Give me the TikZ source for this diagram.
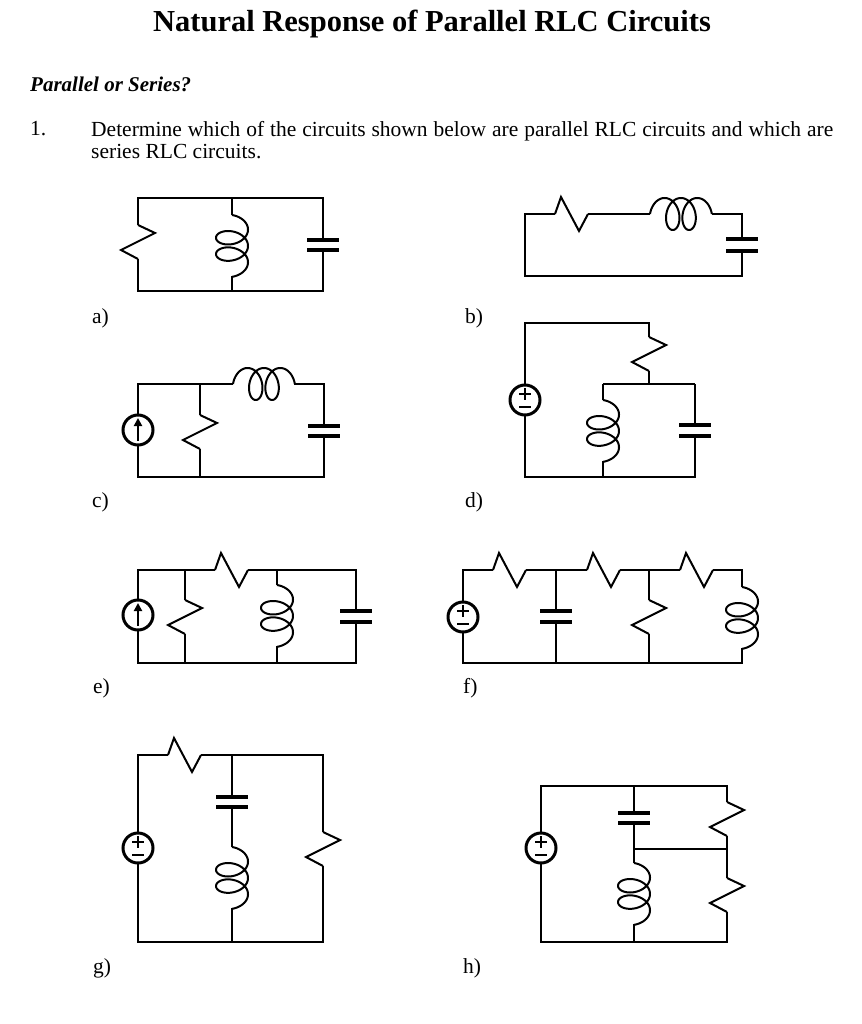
\documentclass[tikz,border=0pt]{standalone}
\usepackage{fontspec}
\setmainfont{Liberation Serif}
\usetikzlibrary{arrows.meta}
\newcommand\resV[2]{\draw[wire] (#1,#2) -- ++(17,8) -- ++(-34,17) -- ++(17,9);}
\newcommand\resH[2]{\draw[wire] (#1,#2) -- ++(6,-17) -- ++(18,34) -- ++(9,-17);}
\newcommand\capV[3]{\draw[plate] (#1-16,#2) -- (#1+16,#2) (#1-16,#3) -- (#1+16,#3);}
\newcommand\indV[2]{\draw[wire] plot[domain=0:15.708,samples=200,smooth,variable=\t] ({#1+16*sin(\t r)},{#2+2.6*\t+10.5*(1-cos(\t r))});}
\newcommand\indH[2]{\draw[wire] plot[domain=0:15.708,samples=200,smooth,variable=\t] ({#1+2.6*\t+10.5*(1-cos(\t r))},{#2-16*sin(\t r)});}
\newcommand\isrc[2]{\draw[src] (#1,#2) circle (15);
 \draw[line width=2.5pt,-{Triangle[length=8pt,width=8pt]}] (#1,#2+11) -- (#1,#2-12);}
\newcommand\vsrc[2]{\draw[src] (#1,#2) circle (15);
 \draw[line width=2.5pt] (#1-6,#2-6) -- (#1+6,#2-6) (#1,#2-12) -- (#1,#2) (#1-6,#2+7) -- (#1+6,#2+7);}
\tikzset{wire/.style={line width=2pt,line join=miter},plate/.style={line width=3.5pt},src/.style={line width=3pt},
 txt/.style={font=\fontsize{21.5}{22}\selectfont,inner sep=0pt}}
\begin{document}
\begin{tikzpicture}[x=1pt,y=-1pt]
\useasboundingbox (0,0) rectangle (861,1024);
\node[inner sep=0pt,font=\fontsize{30.5}{32}\selectfont\bfseries] (title) at (432,24) {Natural Response of Parallel RLC Circuits};
\node[txt,anchor=west,font=\fontsize{21}{22}\selectfont\bfseries\itshape] (sub) at (30,84) {Parallel or Series?};
\node[txt,anchor=north west] (num) at (30,121) {1.};
\node[txt,anchor=north west,text width=742pt,align=justify] (par) at (91,121) {Determine which of the circuits shown below are parallel RLC circuits and which are series RLC circuits.};
\node[txt,anchor=west] (la) at (92,318) {a)};
\node[txt,anchor=west] (lb) at (465,318) {b)};
\node[txt,anchor=west] (lc) at (92,502) {c)};
\node[txt,anchor=west] (ld) at (465,502) {d)};
\node[txt,anchor=west] (le) at (93,688) {e)};
\node[txt,anchor=west] (lf) at (463,688) {f)};
\node[txt,anchor=west] (lg) at (93,968) {g)};
\node[txt,anchor=west] (lh) at (463,968) {h)};
% a
\draw[wire] (138,225)--(138,198)--(323,198)--(323,240) (323,250)--(323,291)--(138,291)--(138,259) (232,198)--(232,215) (232,276)--(232,291);
\resV{138}{225}\indV{232}{215}\capV{323}{240}{250}
% b
\draw[wire] (555,214)--(525,214)--(525,276)--(742,276)--(742,251) (742,239)--(742,214)--(712,214) (588,214)--(650,214);
\resH{555}{214}\indH{650}{214}\capV{742}{239}{251}
% c
\isrc{138}{430}
\draw[wire] (138,415)--(138,384)--(233,384) (294,384)--(324,384)--(324,426) (324,436)--(324,477)--(138,477)--(138,445) (200,384)--(200,415) (200,449)--(200,477);
\resV{200}{415}\indH{233}{384}\capV{324}{426}{436}
% d
\vsrc{525}{400}
\draw[wire] (525,385)--(525,323)--(649,323)--(649,337) (649,371)--(649,384) (603,384)--(695,384) (603,384)--(603,400) (603,461)--(603,477) (695,384)--(695,425) (695,436)--(695,477)--(525,477)--(525,415);
\resV{649}{337}\indV{603}{400}\capV{695}{425}{436}
% e
\isrc{138}{615}
\draw[wire] (138,600)--(138,570)--(215,570) (248,570)--(356,570)--(356,611) (356,622)--(356,663)--(138,663)--(138,630) (185,570)--(185,600) (185,634)--(185,663) (277,570)--(277,585) (277,646)--(277,663);
\resH{215}{570}\resV{185}{600}\indV{277}{585}\capV{356}{611}{622}
% f
\vsrc{463}{617}
\draw[wire] (463,602)--(463,570)--(493,570) (526,570)--(587,570) (620,570)--(680,570) (713,570)--(742,570)--(742,587) (742,648)--(742,663)--(463,663)--(463,632) (556,570)--(556,611) (556,622)--(556,663) (649,570)--(649,600) (649,634)--(649,663);
\resH{493}{570}\resH{587}{570}\resH{680}{570}\indV{742}{587}\capV{556}{611}{622}\resV{649}{600}
% g
\vsrc{138}{848}
\draw[wire] (138,833)--(138,755)--(168,755) (201,755)--(323,755)--(323,832) (323,866)--(323,942)--(138,942)--(138,863) (232,755)--(232,797) (232,807)--(232,847) (232,908)--(232,942);
\resH{168}{755}\resV{323}{832}\capV{232}{797}{807}\indV{232}{847}
% h
\vsrc{541}{848}
\draw[wire] (541,833)--(541,786)--(727,786)--(727,802) (727,836)--(727,878) (727,912)--(727,942)--(541,942)--(541,863) (634,786)--(634,813) (634,823)--(634,863) (634,924)--(634,942) (634,849)--(727,849);
\resV{727}{802}\resV{727}{878}\capV{634}{813}{823}\indV{634}{863}
\end{tikzpicture}
\end{document}
